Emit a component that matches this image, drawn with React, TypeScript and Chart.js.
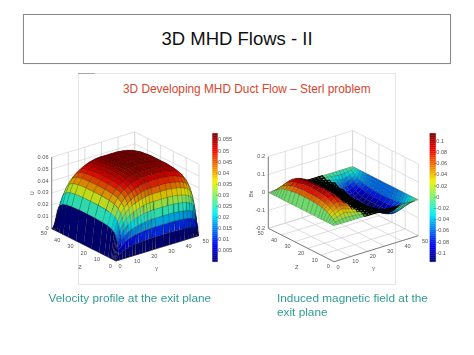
import React, { useEffect, useRef } from "react";
import { Chart, registerables } from "chart.js";

Chart.register(...registerables);

// ---- mesh nodes of the duct cross-section
const gridYVelocity = [0, 2, 4, 6, 8, 10, 12, 14, 16, 18, 20, 22, 24, 29, 32.5, 35.7, 38.7, 41.3, 43.5, 45.3, 46.7, 47.7, 48.5, 49.1, 49.6, 50];
const gridYField = [0, 2, 4, 6, 8, 10, 12, 14, 16, 18, 20, 22, 24, 26, 28, 30, 32, 34, 36, 38, 40, 42, 44, 46, 48, 50];
const gridZVelocity = [0, 0.3, 0.7, 1.1, 1.6, 2.2, 3, 4, 6, 9, 13, 19, 25, 31, 37, 41, 44, 46, 47, 47.8, 48.4, 48.9, 49.3, 49.7, 50];
const gridZField = [0, 1.5, 3, 4.5, 6, 8, 10, 12, 15, 18, 21, 25, 29, 32, 35, 38, 40, 42, 44, 45.5, 47, 48.5, 50];

// ---- U (x 0.001) for one quarter of the duct: rows = Z, columns = Y (the duct is symmetric)
const velocityQuarter = [
  [0, 0, 0, 0, 0, 0, 0, 0, 0, 0, 0, 0, 0],
  [0, 4.2, 5.9, 7.1, 7.9, 8.5, 8.9, 9.2, 9.4, 9.6, 9.8, 9.9, 9.9],
  [0, 7.7, 10.8, 13.0, 14.4, 15.5, 16.2, 16.7, 17.2, 17.5, 17.8, 18, 18],
  [0, 10.7, 15.0, 18.0, 20.0, 21.5, 22.4, 23.2, 23.8, 24.3, 24.7, 24.9, 24.9],
  [0, 13.7, 19.1, 23.0, 25.5, 27.4, 28.7, 29.6, 30.5, 31.1, 31.6, 31.9, 31.9],
  [0, 16.4, 23.0, 27.6, 30.6, 32.9, 34.5, 35.6, 36.6, 37.4, 37.9, 38.3, 38.3],
  [0, 18.9, 26.4, 31.8, 35.3, 37.9, 39.7, 41.0, 42.1, 43.0, 43.6, 44.1, 44.1],
  [0, 20.9, 29.2, 35.1, 39.0, 41.9, 43.8, 45.3, 46.5, 47.5, 48.2, 48.7, 48.7],
  [0, 22.7, 31.7, 38.0, 42.2, 45.4, 47.5, 49.0, 50.4, 51.5, 52.2, 52.8, 52.8],
  [0, 23.9, 33.4, 40.1, 44.5, 47.9, 50.1, 51.7, 53.2, 54.3, 55.1, 55.7, 55.7],
  [0, 24.5, 34.3, 41.2, 45.7, 49.2, 51.4, 53.1, 54.6, 55.8, 56.5, 57.1, 57.1],
  [0, 24.9, 34.8, 41.8, 46.4, 49.9, 52.2, 53.9, 55.4, 56.6, 57.4, 58, 58],
  [0, 24.9, 34.8, 41.8, 46.4, 49.9, 52.2, 53.9, 55.4, 56.6, 57.4, 58, 58],
];

// ---- Bx (x 0.001) for one quarter: rows = Z, columns = Y (odd about mid Y, even about mid Z)
const fieldQuarter = [
  [0, 0, 0, 0, 0, 0, 0, 0, 0, 0, 0, 0, 0],
  [0, 9, 12, 15, 17, 16, 14, 12, 9, 7, 5, 3, 1],
  [0, 19, 26, 32, 36, 34, 29, 25, 20, 15, 10, 6, 2],
  [0, 28, 37, 46, 52, 49, 42, 35, 29, 21, 14, 8, 3],
  [0, 35, 46, 58, 66, 62, 53, 45, 36, 27, 17, 10, 3],
  [0, 42, 56, 70, 80, 75, 64, 54, 43, 32, 21, 13, 4],
  [0, 48, 64, 80, 91, 86, 74, 62, 50, 37, 24, 14, 5],
  [0, 52, 70, 87, 99, 93, 80, 67, 54, 40, 26, 16, 5],
  [0, 56, 75, 94, 107, 101, 86, 72, 58, 43, 28, 17, 6],
  [0, 59, 78, 98, 112, 105, 90, 75, 61, 45, 29, 18, 6],
  [0, 60, 80, 100, 113, 106, 92, 77, 62, 46, 30, 18, 6],
  [0, 60, 80, 100, 114, 107, 92, 77, 62, 46, 30, 18, 6],
];

// ---- ticks
const axisTicks = [0, 10, 20, 30, 40, 50];
const velocityTicks = ["0", "0.01", "0.02", "0.03", "0.04", "0.05", "0.06"];
const fieldTicks = ["-0.2", "-0.1", "0", "0.1", "0.2"];
const velocityBarTicks = ["0.005", "0.01", "0.015", "0.02", "0.025", "0.03", "0.035", "0.04", "0.045", "0.05", "0.055"];
const fieldBarTicks = ["-0.1", "-0.08", "-0.06", "-0.04", "-0.02", "0", "0.02", "0.04", "0.06", "0.08", "0.1"];

// ---- jet colour map
const jetStops: [number, number, number, number][] = [
  [0, 0, 0, 128],
  [0.125, 0, 0, 255],
  [0.375, 0, 255, 255],
  [0.625, 255, 255, 0],
  [0.875, 255, 0, 0],
  [1, 128, 0, 0],
];

function jet(t: number, shade = 1) {
  const v = Math.max(0, Math.min(1, t));
  for (let k = 1; k < jetStops.length; k++) {
    if (v <= jetStops[k][0]) {
      const a = jetStops[k - 1];
      const b = jetStops[k];
      const f = (v - a[0]) / (b[0] - a[0]);
      const ch = (n: number) => Math.round((a[n] + (b[n] - a[n]) * f) * shade);
      return `rgb(${ch(1)},${ch(2)},${ch(3)})`;
    }
  }
  return "rgb(128,0,0)";
}

type Panel = {
  bounds: { left: number; right: number; top: number; bottom: number };
  front: { x: number; y: number };
  dirY: { x: number; y: number };
  dirZ: { x: number; y: number };
  height: number;
  axisMin: number;
  axisMax: number;
  colorMin: number;
  colorMax: number;
  yNodes: number[];
  zNodes: number[];
  valueAt: (i: number, j: number) => number;
  valueTicks: string[];
  barTicks: string[];
  bar: { left: number; right: number; top: number; bottom: number };
  valueName: string;
  valueLabel: { x: number; y: number };
  yLabel: { x: number; y: number };
  zLabel: { x: number; y: number };
  meshColor: string;
  meshWidth: number;
  denseArea: number;
  denseY: [number, number];
};

const velocityPanel: Panel = {
  bounds: { left: 0, right: 240, top: 110, bottom: 290 },
  front: { x: 116, y: 261 },
  dirY: { x: 83, y: -25.3 },
  dirZ: { x: -64.3, y: -32.3 },
  height: 71.5,
  axisMin: 0,
  axisMax: 0.06,
  colorMin: 0,
  colorMax: 0.058,
  yNodes: gridYVelocity,
  zNodes: gridZVelocity,
  valueAt: (i, j) => {
    const a = Math.min(i, gridYVelocity.length - 1 - i);
    const b = Math.min(j, gridZVelocity.length - 1 - j);
    return velocityQuarter[b][a] / 1000;
  },
  valueTicks: velocityTicks,
  barTicks: velocityBarTicks,
  bar: { left: 212.7, right: 217.5, top: 133.3, bottom: 261.7 },
  valueName: "U",
  valueLabel: { x: 32.7, y: 193.3 },
  yLabel: { x: 156.7, y: 269 },
  zLabel: { x: 80, y: 267.3 },
  meshColor: "rgba(0,0,0,0.4)",
  meshWidth: 0.4,
  denseArea: 0,
  denseY: [0, 0],
};

const fieldPanel: Panel = {
  bounds: { left: 240, right: 474, top: 110, bottom: 290 },
  front: { x: 334, y: 261.7 },
  dirY: { x: 84.3, y: -26 },
  dirZ: { x: -65.7, y: -33.4 },
  height: 71.7,
  axisMin: -0.2,
  axisMax: 0.2,
  colorMin: -0.115,
  colorMax: 0.114,
  yNodes: gridYField,
  zNodes: gridZField,
  valueAt: (i, j) => {
    const a = Math.min(i, gridYField.length - 1 - i);
    const b = Math.min(j, gridZField.length - 1 - j);
    const sign = i < gridYField.length / 2 ? 1 : -1;
    return (sign * fieldQuarter[b][a]) / 1000;
  },
  valueTicks: fieldTicks,
  barTicks: fieldBarTicks,
  bar: { left: 430, right: 435.7, top: 133.3, bottom: 261.7 },
  valueName: "Bx",
  valueLabel: { x: 251, y: 194 },
  yLabel: { x: 373.7, y: 269 },
  zLabel: { x: 296.7, y: 267.3 },
  meshColor: "rgba(0,0,0,0.5)",
  meshWidth: 0.35,
  denseArea: 9,
  denseY: [12, 38],
};

function project(p: Panel, y: number, z: number, v: number) {
  const h = ((v - p.axisMin) / (p.axisMax - p.axisMin)) * p.height;
  return {
    x: p.front.x + (y / 50) * p.dirY.x + (z / 50) * p.dirZ.x,
    y: p.front.y + (y / 50) * p.dirY.y + (z / 50) * p.dirZ.y - h,
  };
}

function polygon(points: { x: number; y: number }[], fillColor: string, lineColor: string, width: number) {
  return {
    type: "scatter" as const,
    data: points,
    showLine: true,
    fill: "shape",
    backgroundColor: fillColor,
    borderColor: lineColor,
    borderWidth: width,
    pointRadius: 0,
    tension: 0,
    clip: false,
  };
}

function segment(a: { x: number; y: number }, b: { x: number; y: number }, color: string, width: number) {
  return {
    type: "scatter" as const,
    data: [a, b],
    showLine: true,
    fill: false,
    borderColor: color,
    borderWidth: width,
    pointRadius: 0,
    tension: 0,
    clip: false,
  };
}

function quadArea(q: { x: number; y: number }[]) {
  let s = 0;
  for (let k = 0; k < q.length; k++) {
    const n = q[(k + 1) % q.length];
    s += q[k].x * n.y - n.x * q[k].y;
  }
  return Math.abs(s) / 2;
}

function buildDatasets(p: Panel) {
  const out: any[] = [];
  // colour bar
  const steps = 64;
  for (let k = 0; k < steps; k++) {
    const h = (p.bar.bottom - p.bar.top) / steps;
    const y0 = p.bar.bottom - k * h;
    const y1 = y0 - h;
    const c = jet((k + 0.5) / steps, 0.95);
    out.push(
      polygon(
        [
          { x: p.bar.left, y: y0 },
          { x: p.bar.right, y: y0 },
          { x: p.bar.right, y: y1 },
          { x: p.bar.left, y: y1 },
          { x: p.bar.left, y: y0 },
        ],
        c,
        c,
        0.3,
      ),
    );
  }
  // surface: near cells first, because Chart.js paints the last dataset first
  const range = p.colorMax - p.colorMin;
  for (let i = 0; i < p.yNodes.length - 1; i++) {
    for (let j = 0; j < p.zNodes.length - 1; j++) {
      const y0 = p.yNodes[i];
      const y1 = p.yNodes[i + 1];
      const z0 = p.zNodes[j];
      const z1 = p.zNodes[j + 1];
      const a = project(p, y0, z0, p.valueAt(i, j));
      const b = project(p, y1, z0, p.valueAt(i + 1, j));
      const c = project(p, y1, z1, p.valueAt(i + 1, j + 1));
      const d = project(p, y0, z1, p.valueAt(i, j + 1));
      const dense = quadArea([a, b, c, d]) < p.denseArea && y0 >= p.denseY[0] && y1 <= p.denseY[1];
      out.push(
        polygon(
          [a, b, c, d, a],
          jet((p.valueAt(i, j) - p.colorMin) / range, 0.85),
          dense ? "rgba(0,0,0,0.95)" : p.meshColor,
          dense ? 1.3 : p.meshWidth,
        ),
      );
    }
  }
  // axes and grid: painted first
  const axisColor = "#6a6a6a";
  const gridColor = "#d4d4d4";
  const vMin = p.axisMin;
  const vMax = p.axisMax;
  out.push(segment(project(p, 0, 50, vMin), project(p, 0, 50, vMax), axisColor, 0.8));
  out.push(segment(project(p, 0, 50, vMin), project(p, 0, 0, vMin), axisColor, 0.8));
  out.push(segment(project(p, 0, 0, vMin), project(p, 50, 0, vMin), axisColor, 0.8));
  axisTicks.forEach((t) => {
    out.push(segment(project(p, t, 0, vMin), project(p, t, 50, vMin), gridColor, 0.8));
    out.push(segment(project(p, 0, t, vMin), project(p, 50, t, vMin), gridColor, 0.8));
    out.push(segment(project(p, t, 50, vMin), project(p, t, 50, vMax), gridColor, 0.8));
    out.push(segment(project(p, 50, t, vMin), project(p, 50, t, vMax), gridColor, 0.8));
  });
  p.valueTicks.forEach((t) => {
    const v = Number(t);
    out.push(segment(project(p, 0, 50, v), project(p, 50, 50, v), gridColor, 0.7));
    out.push(segment(project(p, 50, 50, v), project(p, 50, 0, v), gridColor, 0.7));
  });
  return out;
}

function labelPlugin(p: Panel) {
  return {
    id: "axisText",
    afterDraw(chart: any) {
      const { ctx, scales } = chart;
      const px = (x: number) => scales.x.getPixelForValue(x);
      const py = (y: number) => scales.y.getPixelForValue(y);
      const text = (s: string, x: number, y: number, align: CanvasTextAlign) => {
        ctx.textAlign = align;
        ctx.fillText(s, px(x), py(y));
      };
      ctx.save();
      ctx.font = '5.6px "Liberation Sans", Arial, sans-serif';
      ctx.fillStyle = "#555";
      ctx.textBaseline = "middle";
      p.valueTicks.forEach((t) => {
        const q = project(p, 0, 50, Number(t));
        text(t, q.x - 3.2, q.y, "right");
      });
      axisTicks.forEach((t) => {
        const qz = project(p, 0, t, p.axisMin);
        text(String(t), qz.x - 5.8 - t * 0.04, qz.y + 5, "center");
        const qy = project(p, t, 0, p.axisMin);
        text(String(t), qy.x + 4 + t * 0.054, qy.y + 5.3, "center");
      });
      // colour-bar labels follow the bar's value range
      p.barTicks.forEach((t) => {
        const v = Number(t);
        const f = (v - p.colorMin) / (p.colorMax - p.colorMin);
        const y = p.bar.bottom - f * (p.bar.bottom - p.bar.top);
        ctx.strokeStyle = "#333";
        ctx.lineWidth = 0.5;
        ctx.beginPath();
        ctx.moveTo(px(p.bar.right - 1.3), py(y));
        ctx.lineTo(px(p.bar.right), py(y));
        ctx.stroke();
        text(t, p.bar.right + 0.6, y, "left");
      });
      text("Y", p.yLabel.x, p.yLabel.y, "center");
      text("Z", p.zLabel.x, p.zLabel.y, "center");
      ctx.save();
      ctx.translate(px(p.valueLabel.x), py(p.valueLabel.y));
      ctx.rotate(-Math.PI / 2);
      ctx.textAlign = "center";
      ctx.fillText(p.valueName, 0, 0);
      ctx.restore();
      ctx.restore();
    },
  };
}

function PanelChart({ panel }: { panel: Panel }) {
  const ref = useRef<HTMLCanvasElement>(null);
  useEffect(() => {
    const chart = new Chart(ref.current!, {
      type: "scatter",
      data: { datasets: buildDatasets(panel) },
      options: {
        animation: false,
        responsive: false,
        events: [],
        layout: { padding: 0, autoPadding: false },
        plugins: { legend: { display: false }, tooltip: { enabled: false }, title: { display: false } },
        scales: {
          x: { type: "linear", display: false, min: panel.bounds.left, max: panel.bounds.right },
          y: { type: "linear", display: false, min: panel.bounds.top, max: panel.bounds.bottom, reverse: true },
        },
      } as any,
      plugins: [labelPlugin(panel)],
    } as any);
    return () => chart.destroy();
  }, [panel]);
  const b = panel.bounds;
  return (
    <canvas
      ref={ref}
      width={b.right - b.left}
      height={b.bottom - b.top}
      style={{ position: "absolute", left: b.left, top: b.top, width: b.right - b.left, height: b.bottom - b.top, filter: "blur(0.35px)" }}
    />
  );
}

const font = '"Liberation Sans", Arial, Helvetica, sans-serif';
const teal = "#2f9c90";

function Caption({ left, top, text }: { left: number; top: number; text: string }) {
  return (
    <div style={{ position: "absolute", left, top, fontFamily: font, fontSize: 11.8, lineHeight: "14px", color: teal, whiteSpace: "nowrap" }}>
      {text}
    </div>
  );
}

export default function App() {
  return (
    <div style={{ position: "fixed", left: 0, top: 0, width: 474, height: 355, background: "#fff", overflow: "hidden" }}>
      <div style={{ position: "absolute", left: 23, top: 14, width: 426, height: 48, border: "1px solid #8a8a8a", boxShadow: "0 0 0.6px #8a8a8a" }} />
      <div style={{ position: "absolute", left: 23, top: 14, width: 428, height: 50, lineHeight: "50px", textAlign: "center", fontFamily: font, fontSize: 18.5, color: "#111" }}>
        3D MHD Flows - II
      </div>
      <div style={{ position: "absolute", left: 78, top: 73, width: 316, height: 210, border: "1px solid #e6e6e6" }} />
      <div style={{ position: "absolute", left: 78, top: 73, width: 17, height: 1, background: "#aaa" }} />
      <div style={{ position: "absolute", left: 123, top: 81, fontFamily: font, fontSize: 11.85, lineHeight: "16px", color: "#d8452e", whiteSpace: "nowrap" }}>
        3D Developing MHD Duct Flow – Sterl problem
      </div>
      <PanelChart panel={velocityPanel} />
      <PanelChart panel={fieldPanel} />
      <Caption left={48.5} top={291} text="Velocity profile at the exit plane" />
      <Caption left={277} top={291} text="Induced magnetic field at the" />
      <Caption left={277} top={305} text="exit plane" />
    </div>
  );
}
